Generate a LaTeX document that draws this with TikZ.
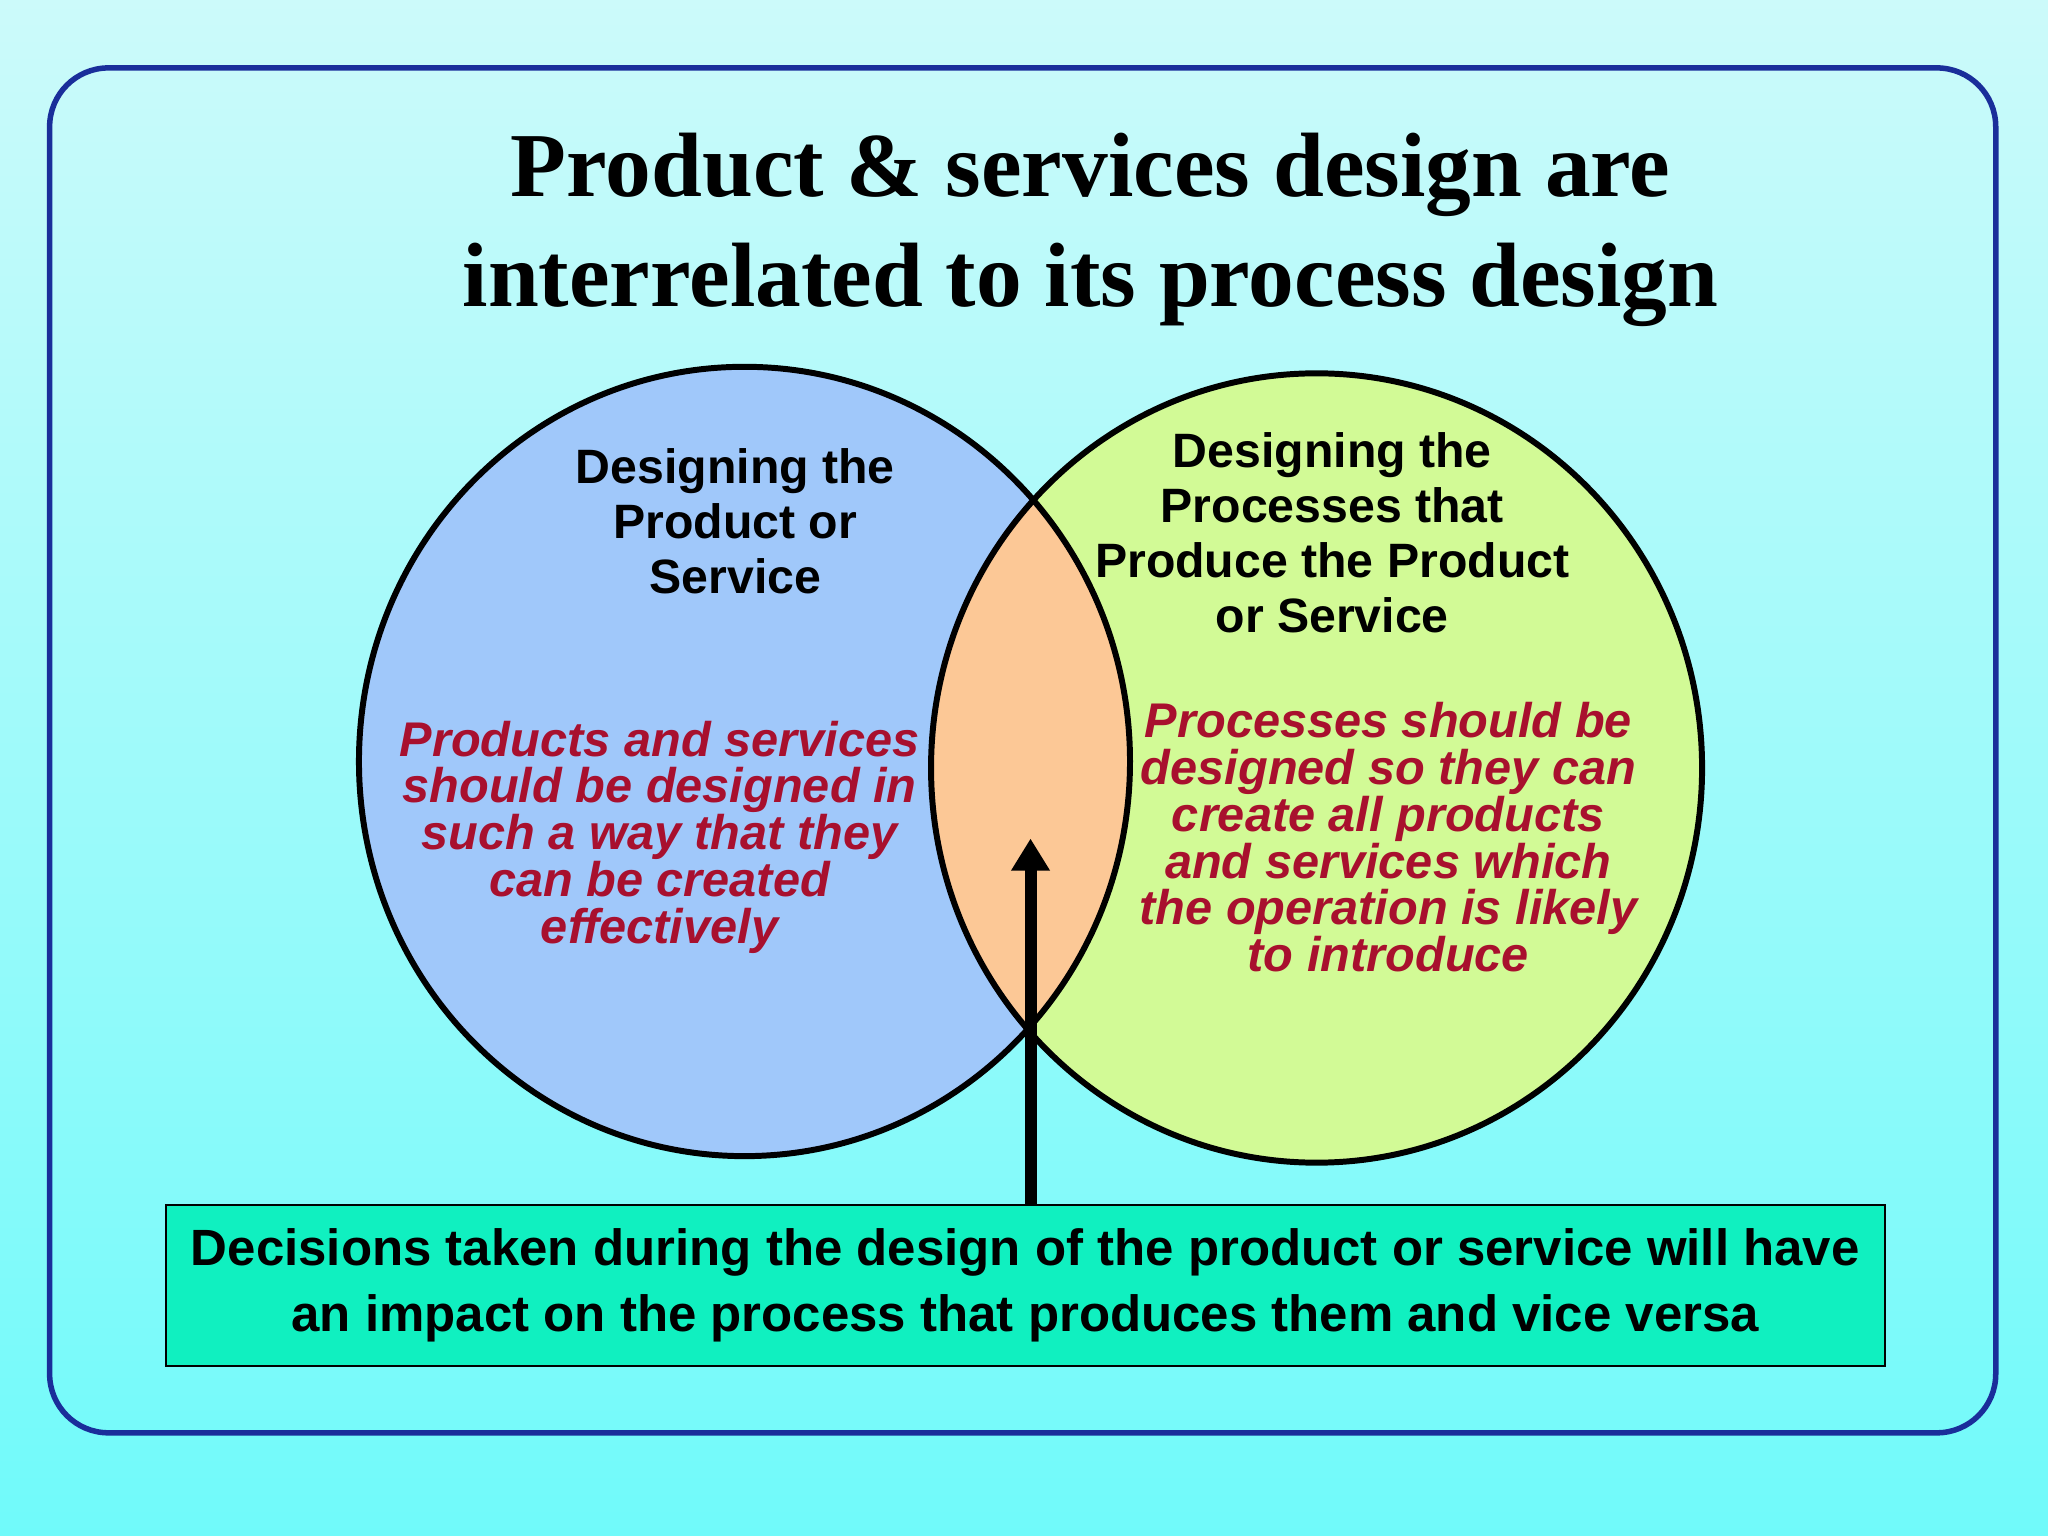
\documentclass[tikz,border=0pt]{standalone}
\usepackage{fontspec}
\setmainfont{Liberation Sans}
\newfontfamily\titlefont{Liberation Serif}
\usetikzlibrary{calc,arrows.meta}
\definecolor{bgtop}{HTML}{CCFAFA}
\definecolor{bgbot}{HTML}{70FAFA}
\definecolor{frameblue}{HTML}{1A2E9A}
\definecolor{prodblue}{HTML}{A0C8FA}
\definecolor{procgreen}{HTML}{D2FA96}
\definecolor{overlap}{HTML}{FCC896}
\definecolor{notered}{HTML}{A8102E}
\definecolor{boxgreen}{HTML}{10F0C0}
\begin{document}
\begin{tikzpicture}[x=0.01cm,y=-0.01cm,
    headtext/.style={font=\bfseries\fontsize{10.5}{12}\selectfont, align=center},
    redtext/.style={font=\bfseries\itshape\fontsize{10.6}{10.2}\selectfont, text=notered, align=center},
    set/.style={draw=black, line width=1.3pt}]
  \useasboundingbox (0,0) rectangle (1568,1176);
  \shade[top color=bgtop, bottom color=bgbot] (0,0) rectangle (1568,1176);
  \draw[frameblue, line width=1.2pt, rounded corners=0.45cm] (38,52) rectangle (1528,1097);

  \node[font=\titlefont\bfseries\fontsize{19.9}{24}\selectfont, align=center] (title) at (835,176)
    {Product \& services design are\\interrelated to its process design};

  % the two sets
  \coordinate (L) at (570,583);
  \coordinate (R) at (1008,588);
  \fill[prodblue] (L) ellipse [x radius=2.95cm, y radius=3.02cm];
  \fill[procgreen] (R) ellipse [x radius=2.95cm, y radius=3.02cm];
  \begin{scope}
    \clip (L) ellipse [x radius=2.95cm, y radius=3.02cm];
    \fill[overlap] (R) ellipse [x radius=2.95cm, y radius=3.02cm];
  \end{scope}
  \draw[set] (L) ellipse [x radius=2.95cm, y radius=3.02cm];
  \draw[set] (R) ellipse [x radius=2.95cm, y radius=3.02cm];

  \node[headtext] (prodhead) at (563,399) {Designing the\\Product or\\Service};
  \node[headtext] (prochead) at (1020,408) {Designing the\\Processes that\\Produce the Product\\or Service};
  \node[redtext] (prodnote) at (505,641) {Products and services\\should be designed in\\such a way that they\\can be created\\effectively};
  \node[redtext] (procnote) at (1063,641) {Processes should be\\designed so they can\\create all products\\and services which\\the operation is likely\\to introduce};

  \node[draw=black, fill=boxgreen, minimum width=13.15cm, minimum height=1.23cm,
        font=\bfseries\fontsize{11.1}{14.2}\selectfont, align=center] (decision) at (785,984)
    {Decisions taken during the design of the product or service will have\\an impact on the process that produces them and vice versa};
  \coordinate (tip) at (789,642);
  \draw[line width=2.6pt, -{Triangle[length=7pt, width=8pt]}] (decision.north -| tip) -- (tip);
\end{tikzpicture}
\end{document}
